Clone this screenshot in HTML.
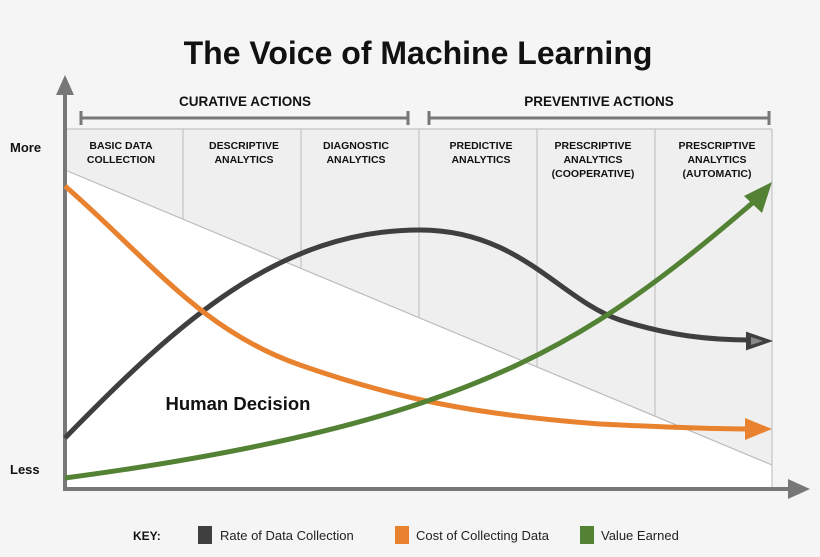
<!DOCTYPE html>
<html><head><style>
html,body{margin:0;padding:0;background:#f5f5f5;}
svg{display:block;font-family:"Liberation Sans",Arial,sans-serif;}
</style></head><body>
<svg width="820" height="557" viewBox="0 0 820 557">
<rect width="820" height="557" fill="#f5f5f5"/>
<text x="418" y="64" text-anchor="middle" font-size="32" font-weight="bold" fill="#111">The Voice of Machine Learning</text>
<rect x="65" y="129" width="707" height="358" fill="#efefef"/>
<polygon points="65,170 772,465 772,487 65,487" fill="#ffffff"/>
<line x1="65" y1="170" x2="772" y2="465" stroke="#bbb" stroke-width="1.2"/>
<line x1="65" y1="129" x2="772" y2="129" stroke="#ccc" stroke-width="1.5"/>
<g stroke="#c4c4c4" stroke-width="1.2">
<line x1="183" y1="129" x2="183" y2="219"/>
<line x1="301" y1="129" x2="301" y2="268"/>
<line x1="419" y1="129" x2="419" y2="318"/>
<line x1="537" y1="129" x2="537" y2="367"/>
<line x1="655" y1="129" x2="655" y2="416"/>
<line x1="772" y1="129" x2="772" y2="487"/>
</g>
<g stroke="#777" stroke-width="3" fill="none">
<line x1="81" y1="118" x2="408" y2="118"/><line x1="81" y1="111" x2="81" y2="125"/><line x1="408" y1="111" x2="408" y2="125"/>
<line x1="429" y1="118" x2="769" y2="118"/><line x1="429" y1="111" x2="429" y2="125"/><line x1="769" y1="111" x2="769" y2="125"/>
</g>
<g font-weight="bold" fill="#111" text-anchor="middle">
<text x="245" y="106" font-size="13.5">CURATIVE ACTIONS</text>
<text x="599" y="106" font-size="13.5">PREVENTIVE ACTIONS</text>
<g font-size="10.5">
<text x="121" y="149">BASIC DATA</text><text x="121" y="163">COLLECTION</text>
<text x="244" y="149">DESCRIPTIVE</text><text x="244" y="163">ANALYTICS</text>
<text x="356" y="149">DIAGNOSTIC</text><text x="356" y="163">ANALYTICS</text>
<text x="481" y="149">PREDICTIVE</text><text x="481" y="163">ANALYTICS</text>
<text x="593" y="149">PRESCRIPTIVE</text><text x="593" y="163">ANALYTICS</text><text x="593" y="177">(COOPERATIVE)</text>
<text x="717" y="149">PRESCRIPTIVE</text><text x="717" y="163">ANALYTICS</text><text x="717" y="177">(AUTOMATIC)</text>
</g>
</g>
<text x="10" y="152" font-size="13" font-weight="bold" fill="#111">More</text>
<text x="10" y="474" font-size="13" font-weight="bold" fill="#111">Less</text>
<text x="238" y="410" text-anchor="middle" font-size="18.5" font-weight="bold" fill="#111">Human Decision</text>
<g stroke="#777" stroke-width="4">
<line x1="65" y1="490" x2="65" y2="92"/>
<line x1="63" y1="489" x2="792" y2="489"/>
</g>
<polygon points="65,75 56,95 74,95" fill="#777"/>
<polygon points="810,489 788,479 788,499" fill="#777"/>
<path d="M65,438 C180,320 280,230 420,230 C520,230 560,300 620,320 C670,336 710,340 752,340" fill="none" stroke="#3f3f3f" stroke-width="5"/>
<polygon points="770,341 747,333 747,349" fill="#3f3f3f" stroke="#3f3f3f" stroke-width="2"/>
<polygon points="763,341 751,337 751,345" fill="#888"/>
<path d="M65,186 C150,260 200,330 300,365 C400,400 480,415 600,424 C680,428 720,429 752,429" fill="none" stroke="#e8822f" stroke-width="5"/>
<polygon points="772,429 745,418 745,440" fill="#e8822f"/>
<path d="M65,478 C200,460 330,435 430,400 C560,355 640,300 757,199" fill="none" stroke="#548235" stroke-width="5"/>
<polygon points="772,182 744,196 762,213" fill="#548235"/>
<text x="133" y="540" font-size="12" font-weight="bold" fill="#111">KEY:</text>
<rect x="198" y="526" width="14" height="18" fill="#3f3f3f"/>
<text x="220" y="540" font-size="13" fill="#222">Rate of Data Collection</text>
<rect x="395" y="526" width="14" height="18" fill="#e8822f"/>
<text x="416" y="540" font-size="13" fill="#222">Cost of Collecting Data</text>
<rect x="580" y="526" width="14" height="18" fill="#548235"/>
<text x="601" y="540" font-size="13" fill="#222">Value Earned</text>
</svg>
</body></html>
